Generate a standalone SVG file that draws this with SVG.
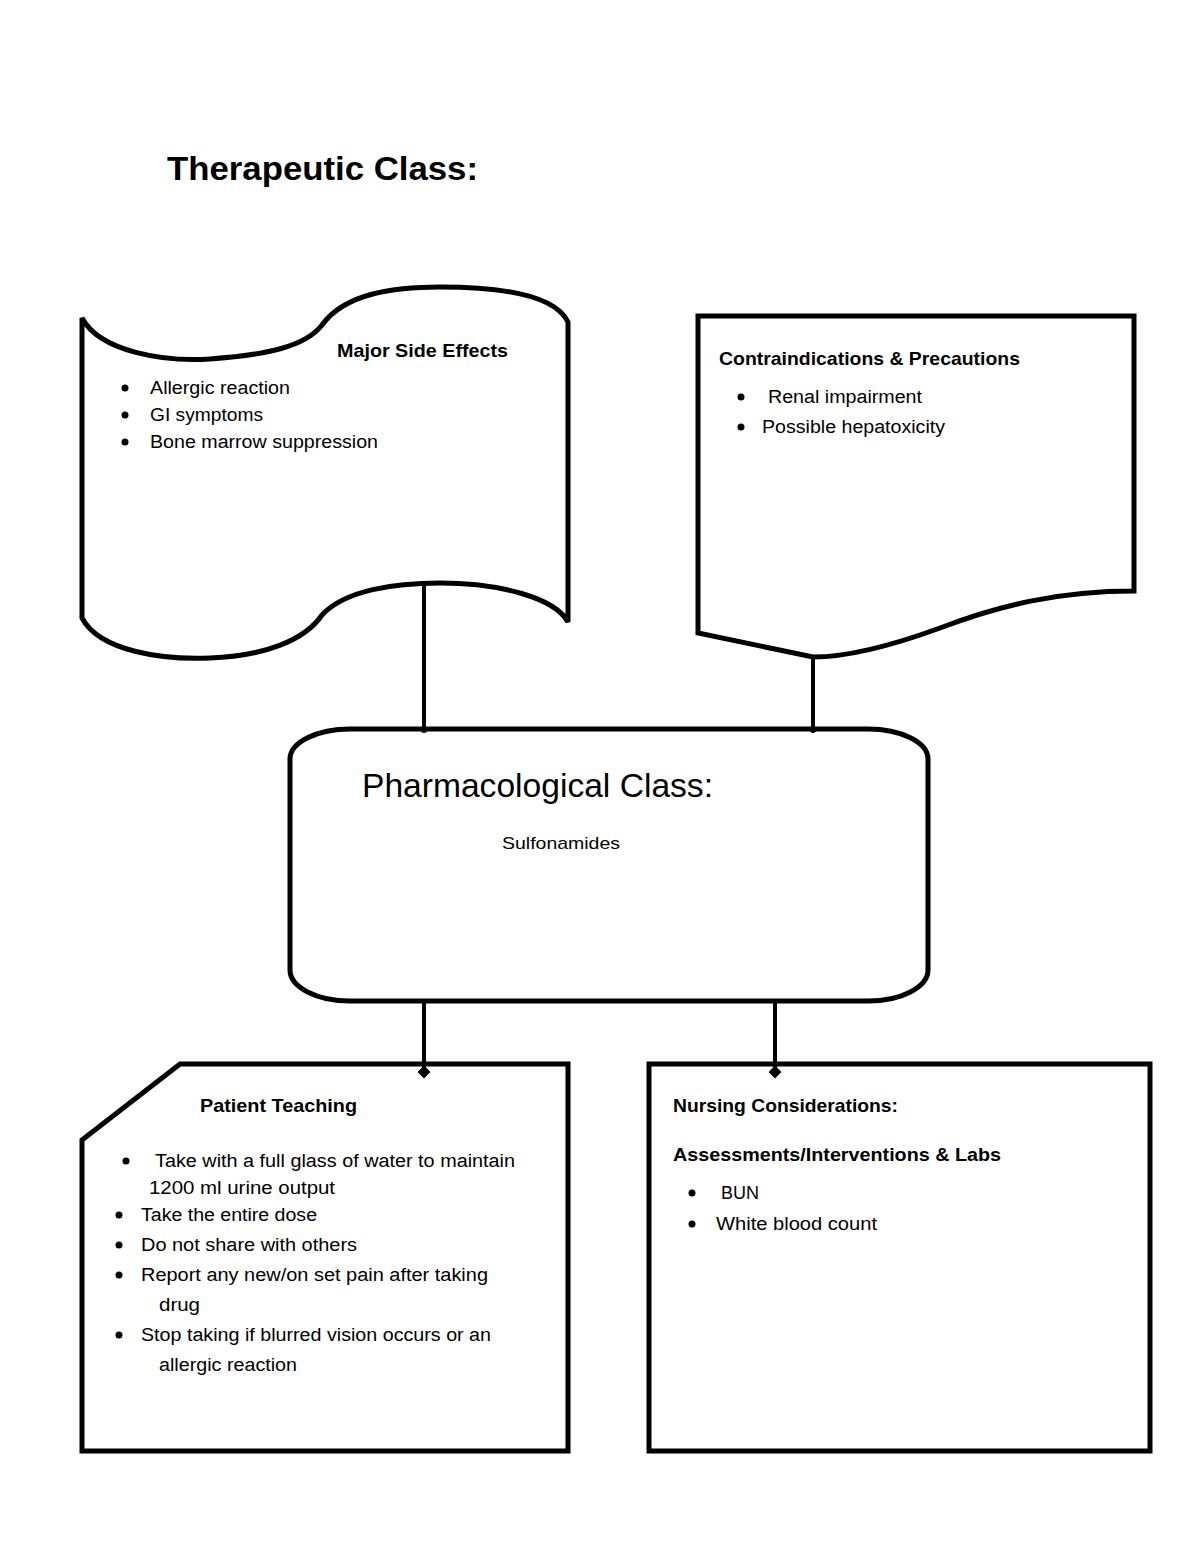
<svg xmlns="http://www.w3.org/2000/svg" width="1200" height="1553" viewBox="0 0 1200 1553">
<style>
.shape{fill:#fff;stroke:#000;stroke-width:5;stroke-linejoin:miter}
.conn{stroke:#000;stroke-width:4;fill:none}
.t{font-family:"Liberation Sans",Arial,sans-serif;fill:#000}
.body{font-size:18px}
.head{font-size:19px;font-weight:bold}
.big{font-size:34px}
</style>
<defs>
<marker id="dot" viewBox="0 0 10 10" refX="5" refY="5" markerWidth="6" markerHeight="6" markerUnits="userSpaceOnUse"><circle cx="5" cy="5" r="5" fill="#000"/></marker>
<marker id="diamond" viewBox="0 0 12 12" refX="6" refY="6" markerWidth="13" markerHeight="13" markerUnits="userSpaceOnUse"><path d="M6,0 L12,6 L6,12 L0,6 Z" fill="#000"/></marker>
</defs>
<rect width="1200" height="1553" fill="#fff"/>
<text class="t big" x="167" y="180" font-weight="bold" textLength="311" lengthAdjust="spacingAndGlyphs">Therapeutic Class:</text>

<g id="side-effects">
<path class="shape" d="M82,318 C100,352 165,362 210,359 C265,355 305,347 322,325 C345,293 395,287 440,287 C500,287 555,295 568,322 L568,622 C555,598 500,583 440,583 C395,583 345,590 322,615 C305,640 265,656 210,658 C165,660 100,652 82,618 Z"/>
<text class="t head" x="337" y="357" textLength="171" lengthAdjust="spacingAndGlyphs">Major Side Effects</text>
<circle cx="125" cy="388" r="3.5"/><circle cx="125" cy="415" r="3.5"/><circle cx="125" cy="442" r="3.5"/>
<text class="t body" x="150" y="394" textLength="140" lengthAdjust="spacingAndGlyphs">Allergic reaction</text>
<text class="t body" x="150" y="421" textLength="113" lengthAdjust="spacingAndGlyphs">GI symptoms</text>
<text class="t body" x="150" y="448" textLength="228" lengthAdjust="spacingAndGlyphs">Bone marrow suppression</text>
</g>

<g id="contraindications">
<path class="shape" d="M698,316 L1134,316 L1134,591 C1060,591 1000,605 940,628 C880,650 840,657 813,657 L698,633 Z"/>
<text class="t head" x="719" y="365" textLength="301" lengthAdjust="spacingAndGlyphs">Contraindications &amp; Precautions</text>
<circle cx="741" cy="397" r="3.5"/><circle cx="741" cy="427" r="3.5"/>
<text class="t body" x="768" y="403" textLength="154" lengthAdjust="spacingAndGlyphs">Renal impairment</text>
<text class="t body" x="762" y="433" textLength="183" lengthAdjust="spacingAndGlyphs">Possible hepatoxicity</text>
</g>

<g id="pharmacological">
<path class="shape" d="M350,729 L868,729 A60,30 0 0 1 928,759 L928,970 A60,31 0 0 1 868,1001 L350,1001 A60,31 0 0 1 290,970 L290,759 A60,30 0 0 1 350,729 Z"/>
<text class="t big" x="362" y="797" textLength="351" lengthAdjust="spacingAndGlyphs">Pharmacological Class:</text>
<text class="t" x="502" y="849" font-size="17" textLength="118" lengthAdjust="spacingAndGlyphs">Sulfonamides</text>
</g>

<g id="patient-teaching">
<path class="shape" d="M82,1140 L180,1064 L568,1064 L568,1451 L82,1451 Z"/>
<text class="t head" x="200" y="1112" textLength="157" lengthAdjust="spacingAndGlyphs">Patient Teaching</text>
<circle cx="126" cy="1161" r="3.5"/><circle cx="119" cy="1215" r="3.5"/><circle cx="119" cy="1245" r="3.5"/><circle cx="119" cy="1275" r="3.5"/><circle cx="119" cy="1335" r="3.5"/>
<text class="t body" x="155" y="1167" textLength="360" lengthAdjust="spacingAndGlyphs">Take with a full glass of water to maintain</text>
<text class="t body" x="149" y="1194" textLength="186" lengthAdjust="spacingAndGlyphs">1200 ml urine output</text>
<text class="t body" x="141" y="1221" textLength="176" lengthAdjust="spacingAndGlyphs">Take the entire dose</text>
<text class="t body" x="141" y="1251" textLength="216" lengthAdjust="spacingAndGlyphs">Do not share with others</text>
<text class="t body" x="141" y="1281" textLength="347" lengthAdjust="spacingAndGlyphs">Report any new/on set pain after taking</text>
<text class="t body" x="159" y="1311" textLength="41" lengthAdjust="spacingAndGlyphs">drug</text>
<text class="t body" x="141" y="1341" textLength="350" lengthAdjust="spacingAndGlyphs">Stop taking if blurred vision occurs or an</text>
<text class="t body" x="159" y="1371" textLength="138" lengthAdjust="spacingAndGlyphs">allergic reaction</text>
</g>

<g id="nursing">
<rect class="shape" x="649" y="1064" width="501" height="387"/>
<text class="t head" x="673" y="1112" textLength="225" lengthAdjust="spacingAndGlyphs">Nursing Considerations:</text>
<text class="t head" x="673" y="1161" textLength="328" lengthAdjust="spacingAndGlyphs">Assessments/Interventions &amp; Labs</text>
<circle cx="692" cy="1193" r="3.5"/><circle cx="692" cy="1224" r="3.5"/>
<text class="t body" x="721" y="1199" textLength="38" lengthAdjust="spacingAndGlyphs">BUN</text>
<text class="t body" x="716" y="1230" textLength="161" lengthAdjust="spacingAndGlyphs">White blood count</text>
</g>

<g id="connectors">
<line class="conn" x1="424" y1="585" x2="424" y2="730" marker-end="url(#dot)"/>
<line class="conn" x1="813" y1="659" x2="813" y2="730" marker-end="url(#dot)"/>
<line class="conn" x1="424" y1="1003" x2="424" y2="1072" marker-end="url(#diamond)"/>
<line class="conn" x1="775" y1="1003" x2="775" y2="1072" marker-end="url(#diamond)"/>
</g>
</svg>
